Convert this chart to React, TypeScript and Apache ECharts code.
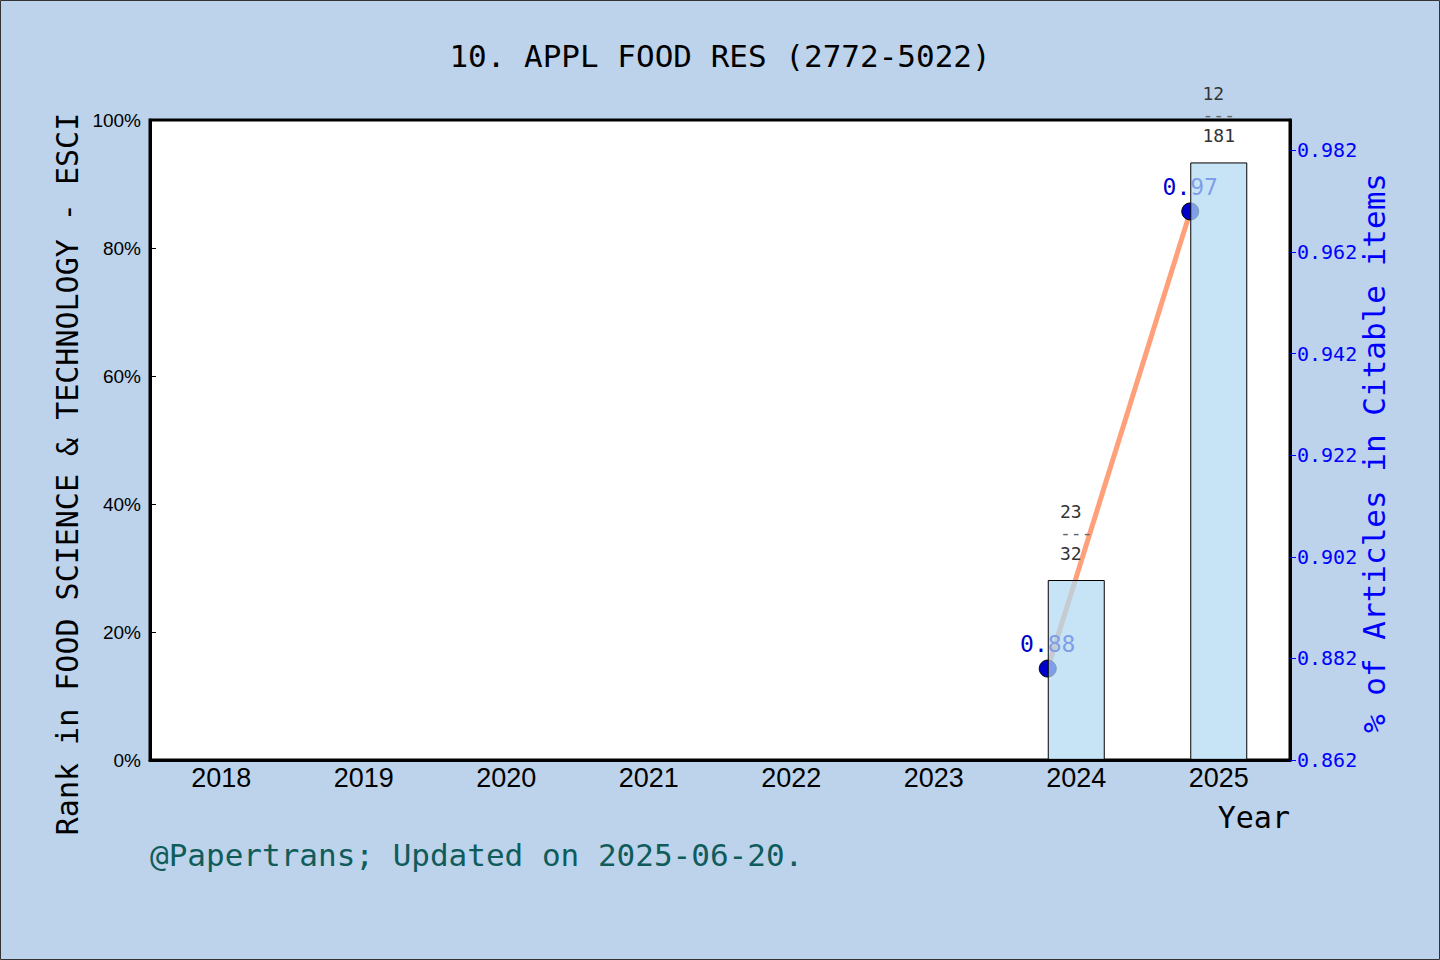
// Rank bar + citable ratio line, matplotlib-like look
import { useRef, useEffect } from "react";
import * as echarts from "echarts";

const years = ["2018", "2019", "2020", "2021", "2022", "2023", "2024", "2025"];
const ranks = [null, null, null, null, null, null, 23, 12];
const totals = [null, null, null, null, null, null, 32, 181];
const citableRatio = [null, null, null, null, null, null, 0.88, 0.97];
const leftTicks = [0, 20, 40, 60, 80, 100];
const rightTicks = [0.862, 0.882, 0.902, 0.922, 0.942, 0.962, 0.982];

const MONO = "DejaVu Sans Mono";
const SANS = "Liberation Sans";
const LINE_SHIFT = -0.2; // line points sit left of the category centre

const App = () => {
  const chartRef = useRef<HTMLDivElement>(null);

  useEffect(() => {
    document.body.style.margin = "0";
    const myChart = echarts.init(chartRef.current, null, { renderer: "svg" });

    //柱子：排名百分位
    const barData = years.map((_, i) =>
      ranks[i] == null ? null : (1 - (ranks[i] as number) / (totals[i] as number)) * 100
    );
    //折线
    const lineData = years
      .map((_, i) => (citableRatio[i] == null ? null : [i + LINE_SHIFT, citableRatio[i]]))
      .filter((d) => d !== null);

    const option = {
      animation: false,
      backgroundColor: "#bdd3ec",
      title: {
        text: "10. APPL FOOD RES (2772-5022)",
        left: "center",
        top: 35,
        textStyle: { fontFamily: MONO, fontSize: 31, fontWeight: "normal", color: "#000" },
      },
      grid: {
        left: 150,
        right: 150,
        top: 120,
        bottom: 200,
        show: true,
        backgroundColor: "#fff",
        borderColor: "#000",
        borderWidth: 3,
      },
      xAxis: [
        {
          type: "category",
          data: years,
          boundaryGap: true,
          axisLine: { onZero: false, lineStyle: { color: "#000", width: 3 } },
          axisTick: { inside: true, length: 6, lineStyle: { color: "#000", width: 1 } },
          axisLabel: { fontFamily: SANS, fontSize: 27, color: "#000", margin: 4 },
          splitLine: { show: false },
        },
        {
          type: "value",
          min: -0.5,
          max: years.length - 0.5,
          show: false,
        },
      ],
      yAxis: [
        {
          type: "value",
          position: "left",
          min: leftTicks[0],
          max: leftTicks[leftTicks.length - 1],
          interval: 20,
          axisLine: { show: true, onZero: false, lineStyle: { color: "#000", width: 3 } },
          axisTick: { show: true, inside: true, length: 6, lineStyle: { color: "#000", width: 1 } },
          axisLabel: {
            formatter: "{value}%",
            fontFamily: SANS,
            fontSize: 19,
            color: "#000",
            margin: 9,
          },
          splitLine: { show: false },
        },
        {
          type: "value",
          position: "right",
          min: 0.862,
          max: 0.988,
          axisLine: { show: true, onZero: false, lineStyle: { color: "#000", width: 3 } },
          axisTick: {
            show: true,
            length: 6,
            customValues: rightTicks,
            lineStyle: { color: "#0000ff", width: 1 },
          },
          axisLabel: {
            customValues: rightTicks,
            formatter: (v: number) => v.toFixed(3),
            fontFamily: MONO,
            fontSize: 20,
            color: "#0000ff",
            margin: 7,
          },
          splitLine: { show: false },
        },
      ],
      series: [
        {
          type: "line",
          xAxisIndex: 1,
          yAxisIndex: 1,
          z: 2,
          data: lineData,
          lineStyle: { color: "#ffa07a", width: 5 },
          symbol: "circle",
          symbolSize: 17,
          itemStyle: { color: "#0000cd", borderColor: "#000", borderWidth: 1 },
          label: {
            show: true,
            position: "top",
            distance: 4,
            formatter: (p: any) => p.value[1].toFixed(2),
            fontFamily: MONO,
            fontSize: 23,
            color: "#0000cd",
          },
        },
        {
          type: "bar",
          xAxisIndex: 0,
          yAxisIndex: 0,
          z: 3,
          barWidth: "40%",
          data: barData,
          itemStyle: {
            color: "rgba(176,218,242,0.72)",
            borderColor: "#000",
            borderWidth: 1,
          },
          label: {
            show: true,
            position: "top",
            distance: 16,
            formatter: (p: any) => {
              const r = String(ranks[p.dataIndex]).padEnd(3, " ");
              const t = String(totals[p.dataIndex]).padEnd(3, " ");
              return `{n|${r}}\n{d|---}\n{n|${t}}`;
            },
            rich: {
              n: { fontFamily: MONO, fontSize: 18, color: "#333", lineHeight: 21 },
              d: { fontFamily: MONO, fontSize: 18, color: "#666", lineHeight: 21 },
            },
          },
        },
      ],
      graphic: [
        {
          type: "text",
          x: 67,
          y: 474,
          rotation: Math.PI / 2,
          style: {
            text: "Rank in FOOD SCIENCE & TECHNOLOGY - ESCI",
            fontFamily: MONO,
            fontSize: 30,
            fill: "#000",
            align: "center",
            verticalAlign: "middle",
          },
        },
        {
          type: "text",
          x: 1374,
          y: 453,
          rotation: Math.PI / 2,
          style: {
            text: "% of Articles in Citable items",
            fontFamily: MONO,
            fontSize: 31,
            fill: "#0000ff",
            align: "center",
            verticalAlign: "middle",
          },
        },
        {
          type: "text",
          x: 1290,
          y: 817,
          style: {
            text: "Year",
            fontFamily: MONO,
            fontSize: 30,
            fill: "#000",
            align: "right",
            verticalAlign: "middle",
          },
        },
        {
          type: "text",
          x: 150,
          y: 855,
          style: {
            text: "@Papertrans; Updated on 2025-06-20.",
            fontFamily: MONO,
            fontSize: 31,
            fill: "#0f5c5a",
            align: "left",
            verticalAlign: "middle",
          },
        },
        {
          type: "rect",
          shape: { x: 0.5, y: 0.5, width: 1439, height: 959 },
          style: { fill: "none", stroke: "#333", lineWidth: 1 },
          silent: true,
        },
      ],
    };

    myChart.setOption(option);

    return () => {
      myChart.dispose();
    };
  }, []);

  return <div ref={chartRef} style={{ width: "1440px", height: "960px" }}></div>;
};

export default App;
